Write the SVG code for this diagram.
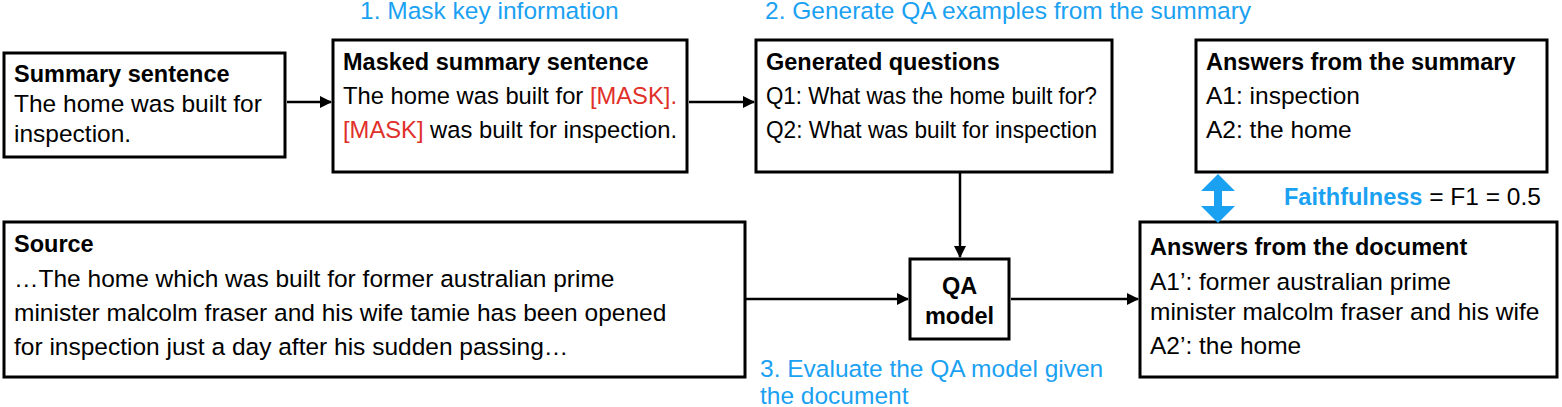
<svg xmlns="http://www.w3.org/2000/svg" width="1562" height="407" viewBox="0 0 1562 407">
<style>
text{font-family:"Liberation Sans",Arial,sans-serif;font-size:24.5px;fill:#000}
.b{font-weight:bold;font-size:23.5px}
.c{fill:#1ba1f2}
.k{fill:#000}
.r{fill:#e0302a}
rect{fill:#fff;stroke:#000;stroke-width:3}
.l{stroke:#000;stroke-width:2.5;fill:none}
</style>
<defs><marker id="a" markerWidth="12" markerHeight="12" refX="11" refY="6" orient="auto" markerUnits="userSpaceOnUse"><path d="M0,0L12,6L0,12Z" fill="#000"/></marker></defs>
<text class="c" x="360" y="19">1. Mask key information</text>
<text class="c" x="765" y="19">2. Generate QA examples from the summary</text>
<text class="c" x="760" y="377">3. Evaluate the QA model given</text>
<text class="c" x="760" y="404">the document</text>
<g id="summary"><rect x="4" y="53" width="281" height="104"/><text class="b" x="14" y="82">Summary sentence</text><text x="14" y="112">The home was built for</text><text x="14" y="142">inspection.</text></g>
<g id="masked"><rect x="333" y="40" width="354" height="132"/><text class="b" x="343" y="70">Masked summary sentence</text><text x="343" y="104" textLength="334" lengthAdjust="spacingAndGlyphs">The home was built for <tspan class="r">[MASK].</tspan></text><text x="343" y="138" textLength="334" lengthAdjust="spacingAndGlyphs"><tspan class="r">[MASK]</tspan> was built for inspection.</text></g>
<g id="questions"><rect x="756" y="40" width="356" height="132"/><text class="b" x="766" y="70">Generated questions</text><text x="766" y="104" textLength="331" lengthAdjust="spacingAndGlyphs">Q1: What was the home built for?</text><text x="766" y="138" textLength="331" lengthAdjust="spacingAndGlyphs">Q2: What was built for inspection</text></g>
<g id="ans-sum"><rect x="1196" y="40" width="351" height="132"/><text class="b" x="1206" y="70">Answers from the summary</text><text x="1206" y="104">A1: inspection</text><text x="1206" y="138">A2: the home</text></g>
<g id="source"><rect x="4" y="222" width="741" height="155"/><text class="b" x="14" y="252">Source</text><text x="14" y="287">…The home which was built for former australian prime</text><text x="14" y="321">minister malcolm fraser and his wife tamie has been opened</text><text x="14" y="355">for inspection just a day after his sudden passing…</text></g>
<g id="qa"><rect x="910" y="259" width="99" height="80"/><text class="b" x="959.500" y="294" text-anchor="middle">QA</text><text class="b" x="959.500" y="324" text-anchor="middle">model</text></g>
<g id="ans-doc"><rect x="1140" y="222" width="417" height="155"/><text class="b" x="1150" y="255">Answers from the document</text><text x="1150" y="290">A1’: former australian prime</text><text x="1150" y="320">minister malcolm fraser and his wife</text><text x="1150" y="354">A2’: the home</text></g>
<text x="1284" y="205"><tspan class="c b">Faithfulness</tspan><tspan class="k"> = F1 = 0.5</tspan></text>
<g id="connectors">
<line class="l" x1="287" y1="102" x2="331" y2="102" marker-end="url(#a)"/>
<line class="l" x1="689" y1="102" x2="754" y2="102" marker-end="url(#a)"/>
<line class="l" x1="960" y1="173" x2="960" y2="257" marker-end="url(#a)"/>
<line class="l" x1="746" y1="299" x2="908" y2="299" marker-end="url(#a)"/>
<line class="l" x1="1011" y1="299" x2="1138" y2="299" marker-end="url(#a)"/>
<path d="M1218,174L1235,191L1222,191L1222,206L1235,206L1218,223L1201,206L1214,206L1214,191L1201,191Z" fill="#1ba1f2"/>
</g>
</svg>
